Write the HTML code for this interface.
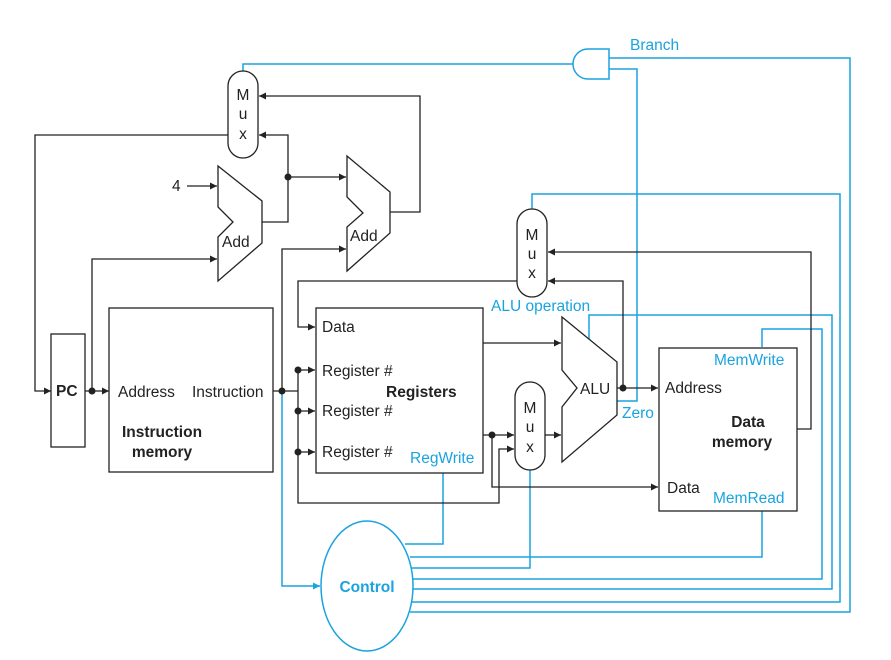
<!DOCTYPE html>
<html><head><meta charset="utf-8"><style>
html,body{margin:0;padding:0;background:#fff;}
svg{display:block;font-family:"Liberation Sans",sans-serif;}
</style></head><body>
<svg width="891" height="660" viewBox="0 0 891 660" xmlns="http://www.w3.org/2000/svg">
<defs>
<marker id="a" viewBox="0 0 10 10" refX="10" refY="5" markerWidth="9" markerHeight="7" markerUnits="userSpaceOnUse" orient="auto"><path d="M0,0 L10,5 L0,10 z" fill="#222"/></marker>
<marker id="b" viewBox="0 0 10 10" refX="10" refY="5" markerWidth="9" markerHeight="7" markerUnits="userSpaceOnUse" orient="auto"><path d="M0,0 L10,5 L0,10 z" fill="#1aa3df"/></marker>
</defs>
<g fill="none" stroke="#1aa3df" stroke-width="1.5">
<path d="M609,49 L609,79 L588,79 A15,15 0 0 1 588,49 Z" fill="#fff"/>
<polyline points="243,71 243,64 573,64"/>
<polyline points="609,58 850,58 850,612 410,612"/>
<polyline points="609,69 637,69 637,401 617,401"/>
<polyline points="532,209 532,194 840,194 840,602 408,602"/>
<polyline points="589,340 589,315 832,315 832,589 411,589"/>
<polyline points="762,347 762,329 822,329 822,579 412,579"/>
<polyline points="762,511 762,557 410,557"/>
<polyline points="530,470 530,568 411,568"/>
<polyline points="443,473 443,544 405,544"/>
<polyline points="282,391 282,586 320,586" marker-end="url(#b)"/>
<ellipse cx="367" cy="586" rx="46" ry="65" fill="#fff"/>
</g>
<g fill="none" stroke="#222" stroke-width="1.3">
<rect x="51" y="334" width="34" height="113" fill="#fff"/>
<rect x="109" y="308" width="164" height="164" fill="#fff"/>
<rect x="316" y="308" width="167" height="165" fill="#fff"/>
<rect x="659" y="348" width="138" height="163" fill="#fff"/>
<rect x="228" y="71" width="30" height="87" rx="15" fill="#fff"/>
<rect x="517" y="209" width="30" height="88" rx="15" fill="#fff"/>
<rect x="515" y="382" width="30" height="88" rx="15" fill="#fff"/>
<polygon points="218,166 262,201 262,243 218,281 218,237 233,222 218,207" fill="#fff"/>
<polygon points="347,156 390,192 390,233 347,271 347,227 363,213 347,197" fill="#fff"/>
<polygon points="562,317 617,362 617,415 562,462 562,407 577,388 562,370" fill="#fff"/>
<polyline points="228,135 35,135 35,391 51,391" marker-end="url(#a)"/>
<polyline points="85,391 109,391" marker-end="url(#a)"/>
<polyline points="92,391 92,259 217,259" marker-end="url(#a)"/>
<polyline points="187,186 217,186" marker-end="url(#a)"/>
<polyline points="262,222 288,222 288,135 259,135" marker-end="url(#a)"/>
<polyline points="288,177 346,177" marker-end="url(#a)"/>
<polyline points="390,212 420,212 420,96 259,96" marker-end="url(#a)"/>
<polyline points="282,391 282,249 346,249" marker-end="url(#a)"/>
<polyline points="273,391 298,391"/>
<polyline points="517,281 298,281 298,327 315,327" marker-end="url(#a)"/>
<polyline points="298,370 298,503 499,503 499,449 514,449" marker-end="url(#a)"/>
<polyline points="298,370 315,370" marker-end="url(#a)"/>
<polyline points="298,411 315,411" marker-end="url(#a)"/>
<polyline points="298,452 315,452" marker-end="url(#a)"/>
<polyline points="483,343 561,343" marker-end="url(#a)"/>
<polyline points="483,435 514,435" marker-end="url(#a)"/>
<polyline points="545,435 561,435" marker-end="url(#a)"/>
<polyline points="492,435 492,487 658,487" marker-end="url(#a)"/>
<polyline points="617,388 658,388" marker-end="url(#a)"/>
<polyline points="623,388 623,281 548,281" marker-end="url(#a)"/>
<polyline points="797,429 811,429 811,252 548,252" marker-end="url(#a)"/>
</g>
<g fill="#222">
<circle cx="92" cy="391" r="3.5"/><circle cx="288" cy="177" r="3.5"/>
<circle cx="282" cy="391" r="3.5"/><circle cx="298" cy="370" r="3.5"/>
<circle cx="298" cy="411" r="3.5"/><circle cx="298" cy="452" r="3.5"/>
<circle cx="492" cy="435" r="3.5"/><circle cx="623" cy="388" r="3.5"/>
</g>
<g font-size="15.5" fill="#222">
<text x="243" y="100" text-anchor="middle">M</text><text x="243" y="119" text-anchor="middle">u</text><text x="243" y="139" text-anchor="middle">x</text>
<text x="532" y="240" text-anchor="middle">M</text><text x="532" y="259" text-anchor="middle">u</text><text x="532" y="278" text-anchor="middle">x</text>
<text x="530" y="413" text-anchor="middle">M</text><text x="530" y="432" text-anchor="middle">u</text><text x="530" y="452" text-anchor="middle">x</text>
<text x="172" y="191">4</text>
<text x="222" y="247">Add</text><text x="350" y="241">Add</text>
<text x="580" y="394">ALU</text>
<text x="56" y="396" font-weight="bold">PC</text>
<text x="118" y="397">Address</text><text x="192" y="397">Instruction</text>
<text x="162" y="437" font-weight="bold" text-anchor="middle">Instruction</text>
<text x="162" y="457" font-weight="bold" text-anchor="middle">memory</text>
<text x="322" y="332">Data</text>
<text x="322" y="376">Register #</text><text x="322" y="416">Register #</text><text x="322" y="457">Register #</text>
<text x="386" y="397" font-weight="bold">Registers</text>
<text x="665" y="393">Address</text><text x="667" y="493">Data</text>
<text x="748" y="427" font-weight="bold" text-anchor="middle">Data</text>
<text x="742" y="447" font-weight="bold" text-anchor="middle">memory</text>
</g>
<g font-size="15.5" fill="#1aa3df">
<text x="630" y="50">Branch</text>
<text x="491" y="311">ALU operation</text>
<text x="622" y="418">Zero</text>
<text x="410" y="463">RegWrite</text>
<text x="714" y="365">MemWrite</text>
<text x="713" y="503">MemRead</text>
<text x="367" y="592" font-weight="bold" text-anchor="middle">Control</text>
</g>
</svg>
</body></html>
